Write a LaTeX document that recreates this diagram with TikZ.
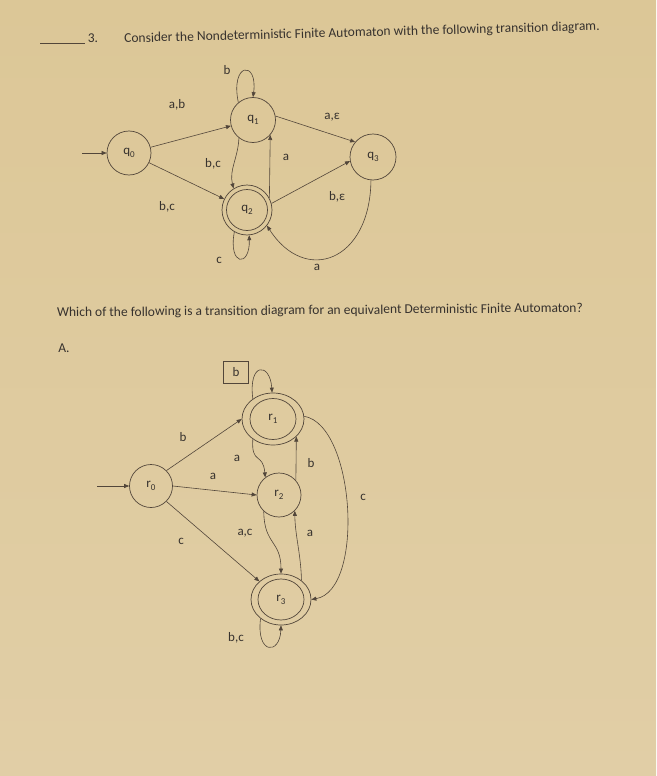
\documentclass[tikz,border=0pt]{standalone}
\usepackage{fontspec}
\setmainfont{Carlito}
\usetikzlibrary{arrows.meta,shapes.geometric}
\definecolor{paperT}{RGB}{220,199,151}
\definecolor{paperB}{RGB}{225,206,166}
\definecolor{ink}{RGB}{82,70,58}
\definecolor{txt}{RGB}{55,50,46}
\newcommand\lowsub[1]{\raisebox{-0.45ex}{\small #1}}
\begin{document}
\begin{tikzpicture}[x=1pt,y=-1pt,
  every node/.style={text=txt},
  st/.style={circle,draw=ink,line width=0.7pt,minimum size=44pt,inner sep=0pt,font=\fontsize{13}{15}\selectfont},
  acc/.style={circle,draw=ink,line width=0.7pt,minimum size=50pt,inner sep=0pt,font=\fontsize{13}{15}\selectfont,
    path picture={\draw[ink,line width=0.7pt] (path picture bounding box.center) circle[radius=20.5pt];}},
  accel/.style={ellipse,draw=ink,line width=0.7pt,minimum width=62pt,minimum height=52pt,inner sep=0pt,font=\fontsize{13}{15}\selectfont,
    path picture={\draw[ink,line width=0.7pt] (path picture bounding box.center) ellipse[x radius=23pt,y radius=20.5pt];}},
  arr/.style={draw=ink,line width=0.6pt,-{Triangle[length=5pt,width=4pt]}},
  lab/.style={font=\fontsize{13}{15}\selectfont,inner sep=0pt},
  big/.style={font=\fontsize{13.5}{16}\selectfont,inner sep=0pt},
]
\useasboundingbox (0,0) rectangle (656,776);
\shade[top color=paperT,bottom color=paperB] (0,0) rectangle (656,776);

% header
\draw[ink,line width=0.6pt] (40,43) -- (85,43);
\node[big] (num) at (93,38) {3.};
\node[big,rotate=1.5] (t1) at (362,33) {Consider the Nondeterministic Finite Automaton with the following transition diagram.};

% NFA
\node[st] (q0) at (129,153) {q\lowsub{0}};
\node[st,minimum size=45pt] (q1) at (253,120) {q\lowsub{1}};
\node[acc] (q2) at (247,210) {q\lowsub{2}};
\node[st,minimum size=46pt] (q3) at (373,157) {q\lowsub{3}};
\coordinate (s0) at (82,153);

\draw[arr] (s0) -- (q0);
\draw[arr] (q0) -- (q1);
\draw[arr] (q0) -- (q2);
\draw[arr] (q1.232) .. controls (238,158) and (229,170) .. (q2.122);
\draw[arr] (q2.28) -- (q1.-41);
\draw[arr] (q1.130) .. controls (230,62) and (258,60) .. (q1.90);
\draw[arr] (q1.10) -- (q3.140);
\draw[arr] (q2.15) -- (q3.190);
\draw[arr] (q3.265) .. controls (370,262) and (305,285) .. (q2.-38);
\draw[arr] (q2.240) .. controls (228,266) and (250,268) .. (q2.-85);

\node[lab] (lb1) at (227,70) {b};
\node[lab] (lab1) at (177,105) {a,b};
\node[lab] (lae) at (332,117) {a,ε};
\node[lab] (lbc1) at (213,164) {b,c};
\node[lab] (la1) at (286,157) {a};
\node[lab] (lbc2) at (167,207) {b,c};
\node[lab] (lbe) at (337,197) {b,ε};
\node[lab] (lc1) at (219,260) {c};
\node[lab] (la2) at (317,267) {a};

% question
\node[big,rotate=0.5] (t2) at (320,311) {Which of the following is a transition diagram for an equivalent Deterministic Finite Automaton?};
\node[big] (optA) at (64,348) {A.};

% DFA
\node[st,minimum size=43pt] (r0) at (151,486) {r\lowsub{0}};
\node[accel] (r1) at (273,419) {r\lowsub{1}};
\node[st] (r2) at (279,495) {r\lowsub{2}};
\node[accel,minimum width=60pt,minimum height=51pt] (r3) at (281,599.5) {r\lowsub{3}};
\coordinate (s1) at (97,486);

\draw[arr] (s1) -- (r0);
\draw[arr] (r0.45) -- (r1.west);
\draw[arr] (r0.0) -- (r2.180);
\draw[arr] (r0.-45) -- (r3.140);
\draw[arr] (r1.135) .. controls (248,362) and (270,362) .. (r1.92);
\draw[arr] (r1.-135) .. controls (251,465) and (263,452) .. (r2.128);
\draw[arr] (r2.41) -- (r1.-37);
\draw[arr] (r2.-133) .. controls (264,545) and (281,540) .. (r3.90);
\draw[arr] (r3.43) .. controls (301,555) and (295,535) .. (r2.-45);
\draw[arr] (r1.5) .. controls (355,425) and (365,590) .. (r3.0);
\draw[arr] (r3.-137) .. controls (256,655) and (280,655) .. (r3.-90);

\node[draw=ink,line width=0.6pt,minimum width=25pt,minimum height=22pt,inner sep=0pt,font=\fontsize{13}{15}\selectfont] (boxb) at (236,372) {b};
\node[lab] (lb2) at (183,437) {b};
\node[lab] (la3) at (213,476) {a};
\node[lab] (la4) at (237,458) {a};
\node[lab] (lb3) at (311,463) {b};
\node[lab] (lc2) at (363,497) {c};
\node[lab] (lc3) at (181,541) {c};
\node[lab] (lac) at (245,533) {a,c};
\node[lab] (la5) at (310,533) {a};
\node[lab] (lbc3) at (236,638) {b,c};
\end{tikzpicture}
\end{document}
